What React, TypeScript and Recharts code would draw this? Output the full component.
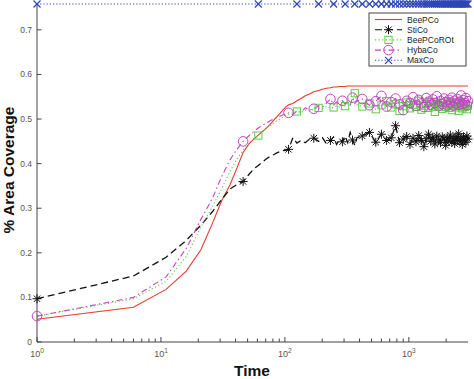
import { ComposedChart, Line, XAxis, YAxis } from 'recharts';

// sample times (log x axis)
const times = [
  1, 6, 11, 16, 21, 26, 31, 36, 41, 46, 51, 56, 61, 66, 71, 76, 81, 86, 91, 96, 101,
  107, 116, 125, 135, 146, 158, 171, 187, 201, 216, 233, 247, 261, 276, 291, 306, 321, 336, 351, 366, 381,
  421, 481, 541, 601, 661, 721, 781, 841, 901, 961,
  1021, 1081, 1141, 1201, 1261, 1321, 1381, 1441, 1501, 1561,
  1621, 1681, 1741, 1801, 1861, 1921, 1981, 2041, 2101, 2161,
  2221, 2281, 2341, 2401, 2461, 2521, 2581, 2641, 2701, 2761,
  2821, 2881, 2941, 3000,
];

const beePCo = [
  0.051, 0.078, 0.118, 0.159, 0.207, 0.266, 0.318, 0.352, 0.390, 0.425,
  0.443, 0.455, 0.464, 0.472, 0.480, 0.488, 0.497, 0.505, 0.512, 0.520, 0.526,
  0.532, 0.535, 0.541, 0.546, 0.552, 0.556, 0.561, 0.564, 0.567, 0.569,
  0.570, 0.572, 0.572, 0.573, 0.573, 0.573, 0.574, 0.574, 0.574, 0.574, 0.574,
  0.574, 0.574, 0.574, 0.574, 0.574, 0.574, 0.574, 0.574, 0.574, 0.574,
  0.574, 0.574, 0.574, 0.574, 0.574, 0.574, 0.574, 0.574, 0.574, 0.574,
  0.574, 0.574, 0.574, 0.574, 0.574, 0.574, 0.574, 0.574, 0.574, 0.574,
  0.574, 0.574, 0.574, 0.574, 0.574, 0.574, 0.574, 0.574, 0.574, 0.574,
  0.574, 0.574, 0.574, 0.574,
];

const stiCo = [
  0.097, 0.148, 0.190, 0.228, 0.262, 0.292, 0.320, 0.343, 0.353, 0.360,
  0.375, 0.388, 0.396, 0.404, 0.411, 0.416, 0.420, 0.424, 0.427, 0.429, 0.430,
  0.432, 0.458, 0.446, 0.452, 0.447, 0.455, 0.457, 0.450, 0.458, 0.445,
  0.452, 0.460, 0.443, 0.455, 0.449, 0.462, 0.447, 0.470, 0.453, 0.441, 0.458,
  0.462, 0.470, 0.448, 0.466, 0.452, 0.458, 0.485, 0.447, 0.455, 0.461,
  0.443, 0.457, 0.449, 0.463, 0.452, 0.438, 0.456, 0.466, 0.450, 0.459,
  0.444, 0.462, 0.453, 0.447, 0.460, 0.455, 0.441, 0.458, 0.451, 0.464,
  0.448, 0.456, 0.445, 0.461, 0.452, 0.467, 0.449, 0.457, 0.443, 0.460,
  0.454, 0.448, 0.462, 0.455,
];

const beePCoROt = [
  0.058, 0.097, 0.136, 0.192, 0.258, 0.303, 0.345, 0.382, 0.410, 0.430,
  0.445, 0.455, 0.463, 0.472, 0.479, 0.485, 0.491, 0.496, 0.500, 0.504, 0.508,
  0.510, 0.514, 0.517, 0.515, 0.520, 0.518, 0.522, 0.525, 0.523, 0.528,
  0.524, 0.526, 0.530, 0.527, 0.533, 0.529, 0.535, 0.531, 0.537, 0.558, 0.532,
  0.528, 0.535, 0.522, 0.531, 0.540, 0.526, 0.533, 0.518, 0.529, 0.537,
  0.524, 0.532, 0.527, 0.541, 0.521, 0.530, 0.534, 0.525, 0.538, 0.528,
  0.516, 0.533, 0.529, 0.536, 0.523, 0.531, 0.527, 0.539, 0.525, 0.532,
  0.520, 0.530, 0.535, 0.526, 0.533, 0.518, 0.529, 0.537, 0.524, 0.531,
  0.527, 0.534, 0.522, 0.530,
];

const hybaCo = [
  0.058, 0.100, 0.146, 0.210, 0.275, 0.322, 0.372, 0.408, 0.432, 0.450,
  0.462, 0.472, 0.480, 0.486, 0.491, 0.496, 0.500, 0.503, 0.506, 0.509, 0.511,
  0.514, 0.510, 0.518, 0.515, 0.525, 0.520, 0.523, 0.530, 0.527, 0.535,
  0.545, 0.532, 0.538, 0.530, 0.541, 0.534, 0.540, 0.531, 0.548, 0.535, 0.540,
  0.545, 0.531, 0.540, 0.552, 0.528, 0.538, 0.546, 0.533, 0.520, 0.541,
  0.536, 0.549, 0.530, 0.543, 0.535, 0.527, 0.547, 0.539, 0.532, 0.544,
  0.536, 0.551, 0.529, 0.540, 0.534, 0.546, 0.538, 0.531, 0.543, 0.537,
  0.548, 0.530, 0.541, 0.535, 0.545, 0.532, 0.539, 0.553, 0.534, 0.542,
  0.536, 0.547, 0.531, 0.540,
];

// MaxCo sits on the top of the axes the whole time
const maxCoLevel = 0.758;

// where the markers sit (every point after tailStart gets one)
const stiMarks = [1, 46, 107, 171, 233, 291, 351];
const hybaMarks = [1, 46, 107, 171, 233, 291, 351];
const rotMarks = [61, 125, 187, 247, 306, 366];
const maxMarks = [1, 61, 125, 187, 247, 306, 366];
const tailStart = 421;

const xMajor = [1, 10, 100, 1000];
const xMinor = [2, 3, 4, 5, 6, 7, 8, 9, 20, 30, 40, 50, 60, 70, 80, 90, 200, 300, 400, 500, 600, 700, 800, 900, 2000];
const yTicks = [0, 0.1, 0.2, 0.3, 0.4, 0.5, 0.6, 0.7];

const AXIS = '#444';
const LABEL = '#555';
const FONT = '"Liberation Sans", Arial, Helvetica, sans-serif';

const series = [
  { key: 'bee', name: 'BeePCo', color: '#e8392c', dash: undefined, marker: 'none', marks: [] as number[] },
  { key: 'sti', name: 'StiCo', color: '#111111', dash: '7 4', marker: 'asterisk', marks: stiMarks },
  { key: 'rot', name: 'BeePCoROt', color: '#5ccf45', dash: '1.2 2.4', marker: 'square', marks: rotMarks },
  { key: 'hyba', name: 'HybaCo', color: '#c246c6', dash: '6 3 1.5 3', marker: 'circle', marks: hybaMarks },
  { key: 'max', name: 'MaxCo', color: '#2f45b5', dash: '1.2 2', marker: 'x', marks: maxMarks },
];

const rows = times.map((t, i) => ({
  t,
  bee: beePCo[i],
  sti: stiCo[i],
  rot: beePCoROt[i],
  hyba: hybaCo[i],
  max: maxCoLevel,
}));

const Marker = ({ kind, cx, cy, color }: { kind: string; cx: number; cy: number; color: string }) => {
  if (kind === 'asterisk') {
    return (
      <g stroke={color} strokeWidth={1}>
        <line x1={cx - 4.5} x2={cx + 4.5} y1={cy} y2={cy} />
        <line x1={cx} x2={cx} y1={cy - 4.5} y2={cy + 4.5} />
        <line x1={cx - 3.2} x2={cx + 3.2} y1={cy - 3.2} y2={cy + 3.2} />
        <line x1={cx - 3.2} x2={cx + 3.2} y1={cy + 3.2} y2={cy - 3.2} />
      </g>
    );
  }
  if (kind === 'square') {
    return <rect x={cx - 3.6} y={cy - 3.6} width={7.2} height={7.2} fill="none" stroke={color} strokeWidth={1} />;
  }
  if (kind === 'circle') {
    return <circle cx={cx} cy={cy} r={4.8} fill="none" stroke={color} strokeWidth={1} />;
  }
  if (kind === 'x') {
    return (
      <g stroke={color} strokeWidth={1.2}>
        <line x1={cx - 3.5} x2={cx + 3.5} y1={cy - 3.5} y2={cy + 3.5} />
        <line x1={cx - 3.5} x2={cx + 3.5} y1={cy + 3.5} y2={cy - 3.5} />
      </g>
    );
  }
  return null;
};

const makeDot = (kind: string, color: string, marks: number[]) => (props: any) => {
  const { cx, cy, payload, index } = props;
  const t = payload?.t;
  if (kind === 'none' || cx == null || cy == null || !(t >= tailStart || marks.includes(t))) {
    return <g key={`d-${index}`} />;
  }
  return (
    <g key={`d-${index}`}>
      <Marker kind={kind} cx={cx} cy={cy} color={color} />
    </g>
  );
};

const BottomTick = (props: any) => {
  const { x, y, payload } = props;
  const v = payload.value;
  const major = xMajor.includes(v);
  const exp = Math.round(Math.log10(v));
  return (
    <g>
      <line x1={x} x2={x} y1={y} y2={y - (major ? 5 : 3.5)} stroke={AXIS} strokeWidth={1} />
      {major && (
        <text x={x} y={y + 15} textAnchor="middle" fontSize={9} fill={LABEL} fontFamily={FONT}>
          10<tspan dy={-4.5} fontSize={6.5}>{exp}</tspan>
        </text>
      )}
    </g>
  );
};

const TopTick = (props: any) => {
  const { x, y, payload } = props;
  const major = xMajor.includes(payload.value);
  return <line x1={x} x2={x} y1={y} y2={y + (major ? 5 : 3.5)} stroke={AXIS} strokeWidth={1} />;
};

const LeftTick = (props: any) => {
  const { x, y, payload } = props;
  const v = payload.value;
  return (
    <g>
      <line x1={x} x2={x + 4.5} y1={y} y2={y} stroke={AXIS} strokeWidth={1} />
      <text x={x - 5} y={y + 3} textAnchor="end" fontSize={8.5} fill={LABEL} fontFamily={FONT}>
        {v === 0 ? '0' : v.toFixed(1)}
      </text>
    </g>
  );
};

const RightTick = (props: any) => {
  const { x, y } = props;
  return <line x1={x} x2={x - 4.5} y1={y} y2={y} stroke={AXIS} strokeWidth={1} />;
};

const LegendBox = () => {
  const left = 369;
  const top = 13;
  return (
    <g>
      <rect x={left} y={top} width={97} height={53} fill="#fff" stroke={AXIS} strokeWidth={1} />
      {series.map((s, i) => {
        const cy = top + 6.5 + i * 10.2;
        return (
          <g key={s.key}>
            <line x1={left + 6} x2={left + 33} y1={cy} y2={cy} stroke={s.color} strokeWidth={1.1} strokeDasharray={s.dash} />
            <Marker kind={s.marker} cx={left + 19.5} cy={cy} color={s.color} />
            <text x={left + 38} y={cy + 3} fontSize={8.5} fill="#222" fontFamily={FONT}>
              {s.name}
            </text>
          </g>
        );
      })}
    </g>
  );
};

export default function App() {
  return (
    <div style={{ position: 'fixed', left: 0, top: 0, width: 474, height: 379, background: '#fff' }}>
      <ComposedChart width={474} height={379} data={rows} margin={{ top: 4, right: 6, bottom: 0, left: 0 }}>
        <XAxis
          dataKey="t"
          type="number"
          scale="log"
          domain={[1, 3000]}
          ticks={[...xMajor, ...xMinor]}
          interval={0}
          tickSize={0}
          tickMargin={0}
          tickLine={false}
          tick={BottomTick}
          height={37}
          axisLine={{ stroke: AXIS }}
        />
        <XAxis
          xAxisId="top"
          dataKey="t"
          type="number"
          scale="log"
          orientation="top"
          domain={[1, 3000]}
          ticks={[...xMajor, ...xMinor]}
          interval={0}
          tickSize={0}
          tickMargin={0}
          tickLine={false}
          tick={TopTick}
          height={0}
          axisLine={{ stroke: AXIS }}
        />
        <YAxis
          type="number"
          domain={[0, maxCoLevel]}
          ticks={yTicks}
          interval={0}
          tickSize={0}
          tickMargin={0}
          tickLine={false}
          tick={LeftTick}
          width={37}
          axisLine={{ stroke: AXIS }}
        />
        <YAxis
          yAxisId="right"
          orientation="right"
          type="number"
          domain={[0, maxCoLevel]}
          ticks={yTicks}
          interval={0}
          tickSize={0}
          tickMargin={0}
          tickLine={false}
          tick={RightTick}
          width={0}
          axisLine={{ stroke: AXIS }}
        />
        {series.map((s) => (
          <Line
            key={s.key}
            dataKey={s.key}
            name={s.name}
            type="linear"
            stroke={s.color}
            strokeWidth={s.key === 'sti' ? 1.3 : 1.1}
            strokeDasharray={s.dash}
            dot={makeDot(s.marker, s.color, s.marks)}
            activeDot={false}
            isAnimationActive={false}
          />
        ))}
      </ComposedChart>
      <svg width={474} height={379} style={{ position: 'absolute', left: 0, top: 0, pointerEvents: 'none' }}>
        <LegendBox />
        <text x={252} y={376} textAnchor="middle" fontSize={15.5} fontWeight="bold" fill="#111" fontFamily={FONT}>
          Time
        </text>
        <text
          x={0}
          y={0}
          transform="translate(14,170) rotate(-90)"
          textAnchor="middle"
          fontSize={15.5}
          fontWeight="bold"
          fill="#111"
          fontFamily={FONT}
        >
          % Area Coverage
        </text>
      </svg>
    </div>
  );
}
